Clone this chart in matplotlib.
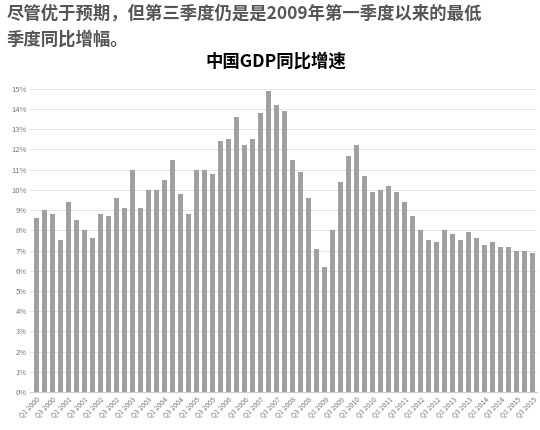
import matplotlib
matplotlib.use("Agg")
import matplotlib.pyplot as plt

plt.rcParams['font.family'] = ['Noto Sans CJK SC', 'DejaVu Sans']

values = [8.6, 9.0, 8.8, 7.5, 9.4, 8.5, 8.0, 7.6, 8.8, 8.7, 9.6, 9.1, 11.0, 9.1, 10.0, 10.0,
          10.5, 11.5, 9.8, 8.8, 11.0, 11.0, 10.8, 12.4, 12.5, 13.6, 12.2, 12.5, 13.8,
          14.9, 14.2, 13.9, 11.5, 10.9, 9.6, 7.1, 6.2, 8.0, 10.4, 11.7, 12.2, 10.7, 9.9,
          10.0, 10.2, 9.9, 9.4, 8.7, 8.0, 7.5, 7.4, 8.0, 7.8, 7.5, 7.9, 7.6, 7.3, 7.4,
          7.2, 7.2, 7.0, 7.0, 6.9]
quarters = [f"Q{q} {y}" for y in range(2000, 2016) for q in (1, 2, 3, 4)][:len(values)]
title = "中国GDP同比增速"
headline = "尽管优于预期，但第三季度仍是是2009年第一季度以来的最低\n季度同比增幅。"

fig = plt.figure(figsize=(5.4, 4.3), dpi=100)
ax = fig.add_axes([0.055, 0.088, 0.94, 0.715])
x = list(range(len(values)))
ax.bar(x, values, width=0.65, color='#a0a0a0')
ax.set_ylim(0, 15.2)
ax.set_xlim(-0.8, len(values) - 0.4)
ax.set_yticks(range(0, 16))
ax.set_yticklabels([f"{i}%" for i in range(0, 16)], fontsize=5.5, color='#777777')
ax.set_xticks(x[::2])
ax.set_xticklabels(quarters[::2], rotation=45, ha='right', rotation_mode='anchor', fontsize=5, color='#777777')
ax.grid(axis='y', color='#e4e4e4', linewidth=0.7)
ax.set_axisbelow(True)
for s in ['top', 'right', 'left']:
    ax.spines[s].set_visible(False)
ax.spines['bottom'].set_color('#cccccc')
ax.tick_params(length=0, pad=2)
fig.text(0.012, 0.99, headline, fontsize=12.5, fontweight='bold', color='#555555', va='top', linespacing=1.6)
fig.text(0.51, 0.845, title, fontsize=12.5, fontweight='bold', color='black', ha='center')
fig.savefig('out.png', dpi=100)
